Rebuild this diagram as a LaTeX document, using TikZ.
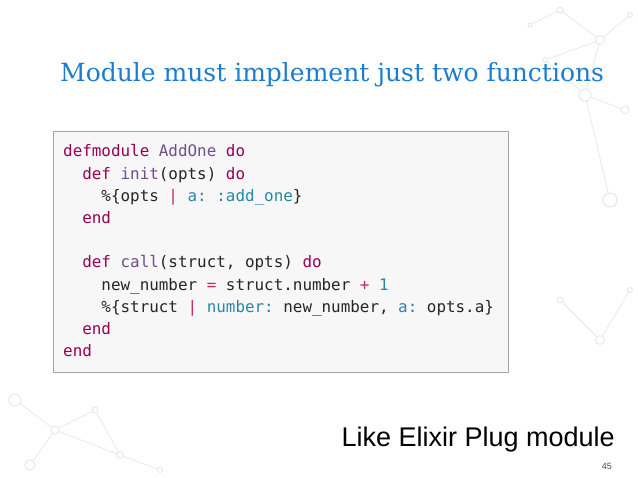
\documentclass[tikz,border=0pt]{standalone}
\usepackage{fontspec}
\setmainfont{DejaVu Serif}
\newfontfamily\codefont{DejaVu Sans Mono}
\newfontfamily\sansf{Liberation Sans}
\frenchspacing
\definecolor{kw}{HTML}{990055}
\definecolor{fn}{HTML}{6F4E8C}
\definecolor{at}{HTML}{2A86A8}
\definecolor{op}{HTML}{C8285A}
\definecolor{titleblue}{HTML}{1C7DD0}
\definecolor{deco}{HTML}{E6E9EC}
\newcommand{\K}[1]{\textcolor{kw}{#1}}
\newcommand{\F}[1]{\textcolor{fn}{#1}}
\newcommand{\A}[1]{\textcolor{at}{#1}}
\newcommand{\Op}[1]{\textcolor{op}{#1}}
\newcommand{\us}{\string_}
\tikzset{codeline/.style={anchor=base west,inner sep=0pt,font=\codefont\fontsize{15.9}{18}\selectfont,text=black!85},
  dot/.style={circle,draw=deco,fill=white,line width=1pt,inner sep=0pt,minimum size=#1},
  link/.style={draw=deco,line width=0.8pt}}
\begin{document}
\begin{tikzpicture}[x=1pt,y=-1pt]
\useasboundingbox (0,0) rectangle (638,478);
% decoration top right
\coordinate (d1) at (560,10); \coordinate (d2) at (600,40); \coordinate (d3) at (630,15);
\coordinate (d4) at (585,95); \coordinate (d5) at (625,110); \coordinate (d6) at (545,60);
\coordinate (d7) at (610,200); \coordinate (d8) at (530,25);
\draw[link] (d1)--(d2)--(d3) (d2)--(d4)--(d5) (d6)--(d2) (d4)--(d7) (d8)--(d1) (d6)--(d4);
\foreach \p/\s in {d1/6,d2/9,d3/5,d4/12,d5/8,d6/5,d7/14,d8/4} \node[dot=\s pt] at (\p) {};
% decoration bottom left
\coordinate (e1) at (15,400); \coordinate (e2) at (55,430); \coordinate (e3) at (95,410);
\coordinate (e4) at (30,465); \coordinate (e5) at (120,455); \coordinate (e6) at (160,470);
\draw[link] (e1)--(e2)--(e3) (e2)--(e4) (e2)--(e5)--(e6) (e3)--(e5);
\foreach \p/\s in {e1/12,e2/8,e3/6,e4/10,e5/7,e6/5} \node[dot=\s pt] at (\p) {};
% decoration bottom right
\coordinate (f1) at (560,300); \coordinate (f2) at (600,340); \coordinate (f3) at (630,290);
\draw[link] (f1)--(f2)--(f3);
\foreach \p/\s in {f1/6,f2/9,f3/5} \node[dot=\s pt] at (\p) {};
% title
\node[anchor=base west,inner sep=0pt,text=titleblue,font=\fontsize{25}{30}\selectfont] (title) at (60,82) {Module must implement just two functions};
% code box
\node[draw=black!35,fill=black!3,line width=0.8pt,minimum width=455pt,minimum height=241pt,anchor=north west,inner sep=0pt] (box) at (53,131) {};
\node[codeline] (l1) at (63,157) {\K{defmodule} \F{AddOne} \K{do}};
\node[codeline] (l2) at (63,179.2) {\ \ \K{def} \F{init}(opts) \K{do}};
\node[codeline] (l3) at (63,201.4) {\ \ \ \ \%\{opts \Op{|} \A{a:} \A{:add\us one}\}};
\node[codeline] (l4) at (63,223.6) {\ \ \K{end}};
\node[codeline] (l6) at (63,268) {\ \ \K{def} \F{call}(struct, opts) \K{do}};
\node[codeline] (l7) at (63,290.2) {\ \ \ \ new\us number \Op{=} struct.number \Op{+} \A{1}};
\node[codeline] (l8) at (63,312.4) {\ \ \ \ \%\{struct \Op{|} \A{number:} new\us number, \A{a:} opts.a\}};
\node[codeline] (l9) at (63,334.6) {\ \ \K{end}};
\node[codeline] (l10) at (63,356.8) {\K{end}};
% subtitle
\node[anchor=base east,inner sep=0pt,font=\sansf\fontsize{27}{32}\selectfont] (sub) at (615,447) {Like Elixir Plug module};
\node[anchor=base east,inner sep=0pt,font=\sansf\fontsize{9}{10}\selectfont,text=black!70] (pg) at (612,470) {45};
\end{tikzpicture}
\end{document}
